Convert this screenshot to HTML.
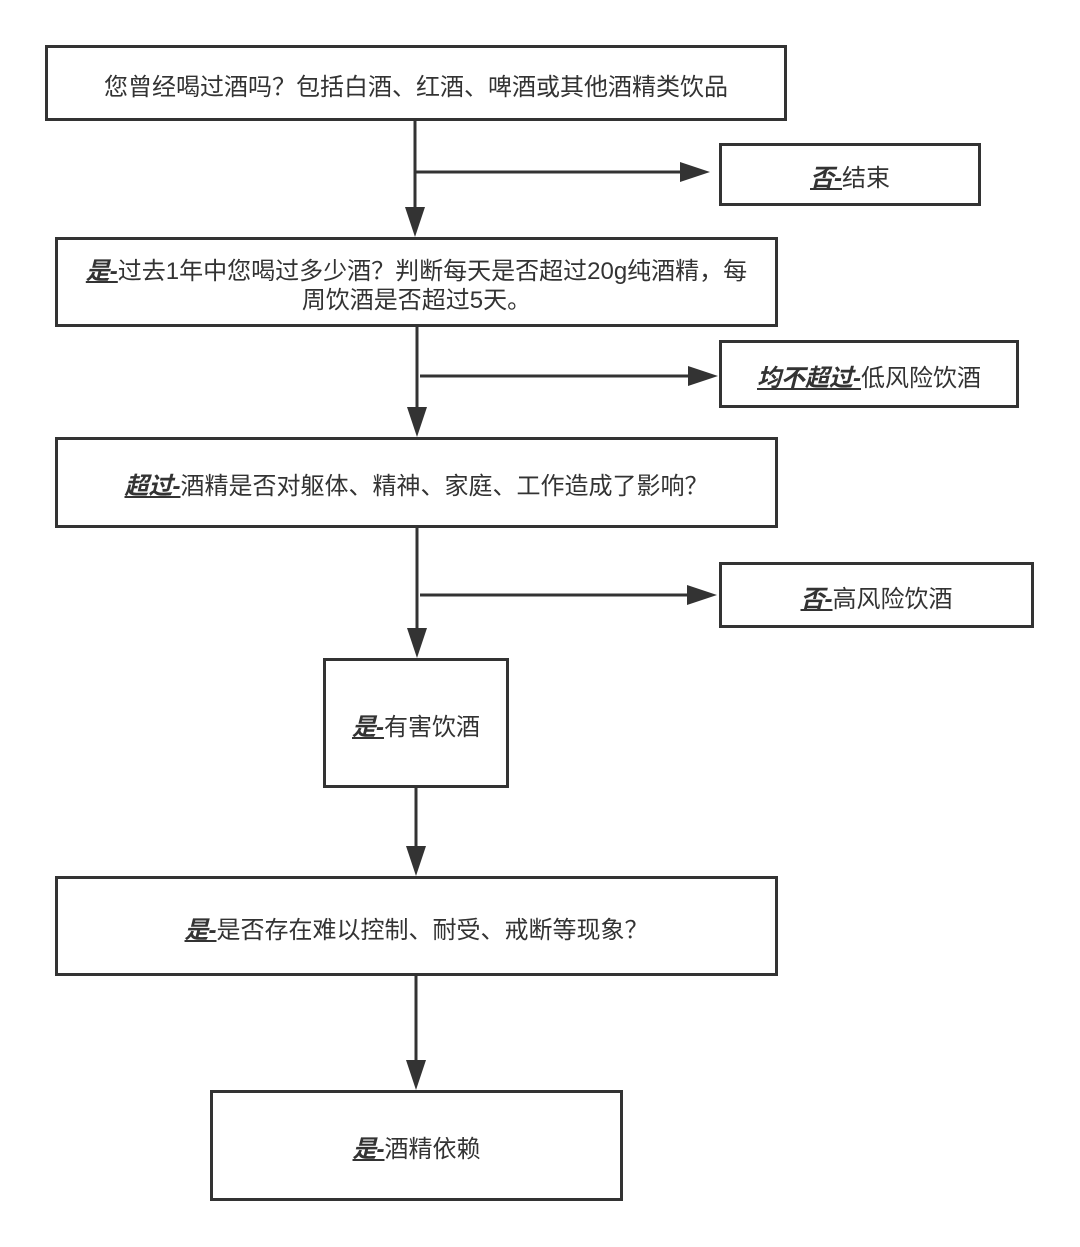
<!DOCTYPE html>
<html><head><meta charset="utf-8"><style>
body{margin:0;background:#fff;width:1080px;height:1247px;position:relative;overflow:hidden;font-family:"Liberation Sans","Noto Sans CJK SC",sans-serif;color:#333}
.b{position:absolute;box-sizing:border-box;border:3px solid #333;background:#fff;display:flex;align-items:center;justify-content:center;text-align:center;font-size:24px;line-height:29px;padding-top:8px}
.p{font-weight:bold;font-style:italic;text-decoration:underline}
svg{position:absolute;left:0;top:0}
</style></head><body>
<svg width="1080" height="1247">
<g stroke="#333" stroke-width="3" fill="none">
<line x1="415" y1="120" x2="415" y2="207"/>
<path d="M405,207L425,207L415,237z" fill="#333" stroke="none"/>
<line x1="415" y1="172" x2="682" y2="172"/>
<path d="M680,162L710,172L680,182z" fill="#333" stroke="none"/>
<line x1="417" y1="326" x2="417" y2="407"/>
<path d="M407,407L427,407L417,437z" fill="#333" stroke="none"/>
<line x1="420" y1="376" x2="690" y2="376"/>
<path d="M688,366L718,376L688,386z" fill="#333" stroke="none"/>
<line x1="417" y1="527" x2="417" y2="628"/>
<path d="M407,628L427,628L417,658z" fill="#333" stroke="none"/>
<line x1="420" y1="595" x2="689" y2="595"/>
<path d="M687,585L717,595L687,605z" fill="#333" stroke="none"/>
<line x1="416" y1="787" x2="416" y2="846"/>
<path d="M406,846L426,846L416,876z" fill="#333" stroke="none"/>
<line x1="416" y1="975" x2="416" y2="1060"/>
<path d="M406,1060L426,1060L416,1090z" fill="#333" stroke="none"/>
</g></svg>
<div class="b" style="left:45px;top:45px;width:742px;height:76px">您曾经喝过酒吗？包括白酒、红酒、啤酒或其他酒精类饮品</div>
<div class="b" style="left:719px;top:143px;width:262px;height:63px"><span><span class="p">否-</span>结束</span></div>
<div class="b" style="left:55px;top:237px;width:723px;height:90px"><span><span class="p">是-</span>过去1年中您喝过多少酒？判断每天是否超过20g纯酒精，每<br>周饮酒是否超过5天。</span></div>
<div class="b" style="left:719px;top:340px;width:300px;height:68px"><span><span class="p">均不超过-</span>低风险饮酒</span></div>
<div class="b" style="left:55px;top:437px;width:723px;height:91px"><span><span class="p">超过-</span>酒精是否对躯体、精神、家庭、工作造成了影响？</span></div>
<div class="b" style="left:719px;top:562px;width:315px;height:66px"><span><span class="p">否-</span>高风险饮酒</span></div>
<div class="b" style="left:323px;top:658px;width:186px;height:130px"><span><span class="p">是-</span>有害饮酒</span></div>
<div class="b" style="left:55px;top:876px;width:723px;height:100px"><span><span class="p">是-</span>是否存在难以控制、耐受、戒断等现象？</span></div>
<div class="b" style="left:210px;top:1090px;width:413px;height:111px"><span><span class="p">是-</span>酒精依赖</span></div>
</body></html>
